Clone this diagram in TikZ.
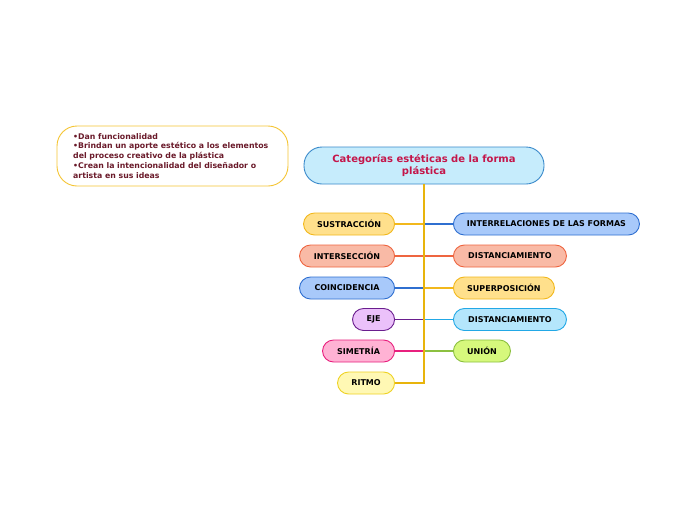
\documentclass[tikz,border=0pt]{standalone}
\usepackage{fontspec}
\setmainfont{DejaVu Sans}
\begin{document}
\begin{tikzpicture}[x=1pt,y=-1pt,
  leaf/.style={draw, line width=0.9pt, rounded corners=11pt, minimum height=22pt, inner sep=0pt, font=\bfseries\fontsize{8}{9}\selectfont, text=black},
  conn/.style={line width=1.2pt}]
\definecolor{trunk}{HTML}{E8B40C}
\definecolor{yfill}{HTML}{FFE08C}\definecolor{ydraw}{HTML}{F2B81C}
\definecolor{ofill}{HTML}{F9BAA6}\definecolor{odraw}{HTML}{EE6540}
\definecolor{bfill}{HTML}{A8C9FA}\definecolor{bdraw}{HTML}{2F6FD0}
\definecolor{pfill}{HTML}{EBC1FA}\definecolor{pdraw}{HTML}{6A1E8E}
\definecolor{mfill}{HTML}{FFB2D4}\definecolor{mdraw}{HTML}{E8207E}
\definecolor{lfill}{HTML}{FFF8B4}\definecolor{ldraw}{HTML}{EED224}
\definecolor{cfill}{HTML}{B4E6FC}\definecolor{cdraw}{HTML}{22A8E6}
\definecolor{gfill}{HTML}{D6F87C}\definecolor{gdraw}{HTML}{8CC040}
\definecolor{mainfill}{HTML}{C6ECFC}\definecolor{maindraw}{HTML}{3A8ACB}
\definecolor{maintext}{HTML}{C4164A}
\definecolor{notetext}{HTML}{6A1A2A}
\definecolor{notedraw}{HTML}{F5C534}
\useasboundingbox (0,0) rectangle (697,520);
\fill[white] (0,0) rectangle (697,520);

% note
\node[draw=notedraw, line width=0.9pt, fill=white, rounded corners=20pt, minimum width=231pt, minimum height=60pt, inner sep=0pt] (note) at (172.5,156) {};
\node[anchor=north west, inner sep=0pt, align=left, text=notetext, font=\bfseries\fontsize{7.8}{9.8}\selectfont] (notetxt) at (73,133)
{•Dan funcionalidad\\•Brindan un aporte estético a los elementos\\del proceso creativo de la plástica\\•Crean la intencionalidad del diseñador o\\artista en sus ideas};

% main
\node[draw=maindraw, fill=mainfill, line width=0.9pt, rounded corners=18pt, minimum width=240pt, minimum height=37pt, inner sep=0pt, align=center, text=maintext, font=\bfseries\fontsize{10}{12}\selectfont] (main) at (424,165.5) {Categorías estéticas de la forma\\plástica};

% left nodes
\node[leaf, fill=yfill, draw=ydraw, minimum width=91pt, anchor=east] (l1) at (395,224) {SUSTRACCIÓN};
\node[leaf, fill=ofill, draw=odraw, minimum width=95pt, anchor=east] (l2) at (395,256) {INTERSECCIÓN};
\node[leaf, fill=bfill, draw=bdraw, minimum width=95pt, anchor=east] (l3) at (395,288) {COINCIDENCIA};
\node[leaf, fill=pfill, draw=pdraw, minimum width=42pt, anchor=east] (l4) at (395,319.5) {EJE};
\node[leaf, fill=mfill, draw=mdraw, minimum width=72pt, anchor=east] (l5) at (395,351) {SIMETRÍA};
\node[leaf, fill=lfill, draw=ldraw, minimum width=57pt, anchor=east] (l6) at (395,383) {RITMO};

% right nodes
\node[leaf, fill=bfill, draw=bdraw, minimum width=186pt, anchor=west] (r1) at (453,224) {INTERRELACIONES DE LAS FORMAS};
\node[leaf, fill=ofill, draw=odraw, minimum width=113pt, anchor=west] (r2) at (453,256) {DISTANCIAMIENTO};
\node[leaf, fill=yfill, draw=ydraw, minimum width=101pt, anchor=west] (r3) at (453,288) {SUPERPOSICIÓN};
\node[leaf, fill=cfill, draw=cdraw, minimum width=113pt, anchor=west] (r4) at (453,319.5) {DISTANCIAMIENTO};
\node[leaf, fill=gfill, draw=gdraw, minimum width=57pt, anchor=west] (r5) at (453,351) {UNIÓN};

\coordinate (t1) at (424,224);
\coordinate (t2) at (424,256);
\coordinate (t3) at (424,288);
\coordinate (t4) at (424,319.5);
\coordinate (t5) at (424,351);
\coordinate (t6) at (424,383);

% connectors
\draw[conn, ydraw] (l1.east) -- (t1);
\draw[conn, odraw] (l2.east) -- (t2);
\draw[conn, bdraw] (l3.east) -- (t3);
\draw[conn, pdraw] (l4.east) -- (t4);
\draw[conn, mdraw] (l5.east) -- (t5);
\draw[conn, bdraw] (t1) -- (r1.west);
\draw[conn, odraw] (t2) -- (r2.west);
\draw[conn, ydraw] (t3) -- (r3.west);
\draw[conn, cdraw] (t4) -- (r4.west);
\draw[conn, gdraw] (t5) -- (r5.west);
\draw[conn, trunk, line join=miter] (main.south) -- (t6) -- (l6.east);
\end{tikzpicture}
\end{document}
